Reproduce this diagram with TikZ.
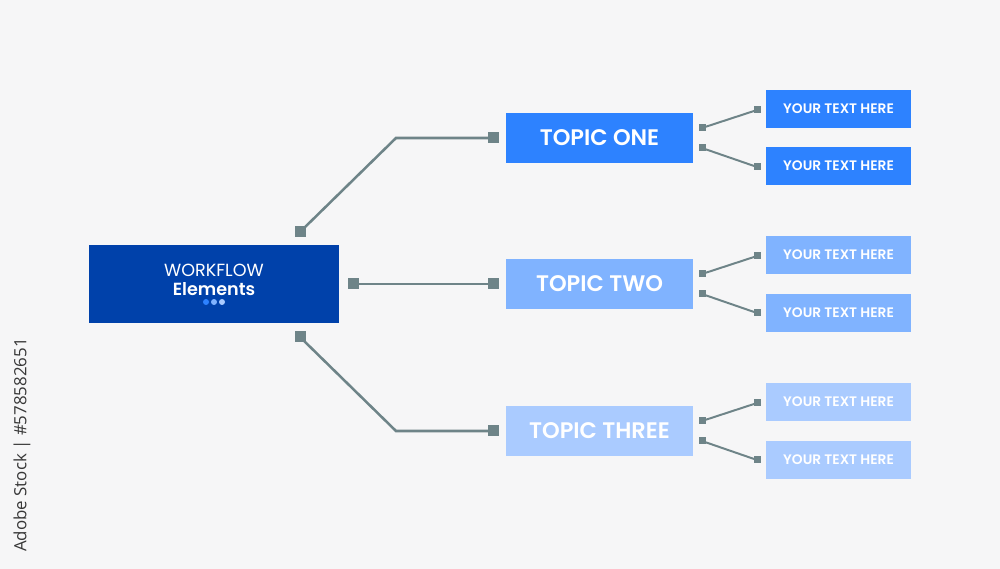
\documentclass[tikz,border=0pt]{standalone}
\usepackage{fontspec}
\setmainfont{Poppins}[BoldFont={* SemiBold}]
\newfontfamily\markfont{Open Sans}
\usepackage{tikz}
\usetikzlibrary{positioning, calc}

\definecolor{bgcol}{RGB}{246,246,247}
\definecolor{maincol}{RGB}{0,65,170}
\definecolor{onecol}{RGB}{45,130,255}
\definecolor{twocol}{RGB}{128,179,255}
\definecolor{threecol}{RGB}{170,203,255}
\definecolor{linkcol}{RGB}{110,132,136}
\definecolor{markcol}{RGB}{55,55,55}

\begin{document}
\begin{tikzpicture}[
    x=0.025cm, y=-0.025cm,
    mainbox/.style={fill=maincol, minimum width=250*0.025cm, minimum height=78*0.025cm, inner sep=0pt},
    topicbox/.style={minimum width=187*0.025cm, minimum height=50*0.025cm, inner sep=0pt, text=white, font=\bfseries\fontsize{16}{19}\selectfont},
    subbox/.style={minimum width=145*0.025cm, minimum height=38*0.025cm, inner sep=0pt, text=white, font=\bfseries\fontsize{9.8}{11}\selectfont},
    bigpin/.style={fill=linkcol, minimum size=11*0.025cm, inner sep=0pt},
    smallpin/.style={fill=linkcol, minimum size=7*0.025cm, inner sep=0pt},
    link/.style={draw=linkcol, line width=1.8pt}
]
% Background
\fill[bgcol] (0,0) rectangle (1000,569);

% Side mark
\node[rotate=90, text=markcol, font=\markfont\fontsize{12}{14}\selectfont] (mark) at (22,445) {Adobe Stock | \#578582651};

% Main box
\node[mainbox] (main) at (214,284) {};
\node[text=white, font=\fontsize{12.5}{15}\selectfont] (work) at (214,270) {WORKFLOW};
\node[text=white, font=\bfseries\fontsize{12.5}{15}\selectfont] (elem) at (214,289) {Elements};
\fill[onecol] (206,302) circle (3);
\fill[twocol] (214,302) circle (3);
\fill[threecol] (222,302) circle (3);

% Pins on the main box
\node[bigpin] (p1) at (300,232) {};
\node[bigpin] (p2) at (353,284) {};
\node[bigpin] (p3) at (300,337) {};
\coordinate (b1) at (396,138);
\coordinate (b3) at (396,431);

% Topic one
\node[topicbox, fill=onecol] (t1) at (599.5,138) {TOPIC ONE};
\node[bigpin] (q1) at (493,138) {};
\node[smallpin] (t1a) at (702,128) {};
\node[smallpin] (t1b) at (702,148) {};
\node[smallpin] (s1a) at (757,110) {};
\node[smallpin] (s1b) at (757,167) {};
\node[subbox, fill=onecol] (u1a) at (838.5,109) {YOUR TEXT HERE};
\node[subbox, fill=onecol] (u1b) at (838.5,166) {YOUR TEXT HERE};

% Topic two
\node[topicbox, fill=twocol] (t2) at (599.5,284) {TOPIC TWO};
\node[bigpin] (q2) at (493,284) {};
\node[smallpin] (t2a) at (702,274) {};
\node[smallpin] (t2b) at (702,294) {};
\node[smallpin] (s2a) at (757,256) {};
\node[smallpin] (s2b) at (757,313) {};
\node[subbox, fill=twocol] (u2a) at (838.5,255) {YOUR TEXT HERE};
\node[subbox, fill=twocol] (u2b) at (838.5,313) {YOUR TEXT HERE};

% Topic three
\node[topicbox, fill=threecol] (t3) at (599.5,431) {TOPIC THREE};
\node[bigpin] (q3) at (493,431) {};
\node[smallpin] (t3a) at (702,421) {};
\node[smallpin] (t3b) at (702,441) {};
\node[smallpin] (s3a) at (757,403) {};
\node[smallpin] (s3b) at (757,460) {};
\node[subbox, fill=threecol] (u3a) at (838.5,402) {YOUR TEXT HERE};
\node[subbox, fill=threecol] (u3b) at (838.5,460) {YOUR TEXT HERE};

% Links
\draw[link] (p1.center) -- (b1) -- (q1.center);
\draw[link] (p2.center) -- (q2.center);
\draw[link] (p3.center) -- (b3) -- (q3.center);
\draw[link, line width=1.4pt] (t1a.center) -- (s1a.center);
\draw[link, line width=1.4pt] (t1b.center) -- (s1b.center);
\draw[link, line width=1.4pt] (t2a.center) -- (s2a.center);
\draw[link, line width=1.4pt] (t2b.center) -- (s2b.center);
\draw[link, line width=1.4pt] (t3a.center) -- (s3a.center);
\draw[link, line width=1.4pt] (t3b.center) -- (s3b.center);
\end{tikzpicture}
\end{document}
